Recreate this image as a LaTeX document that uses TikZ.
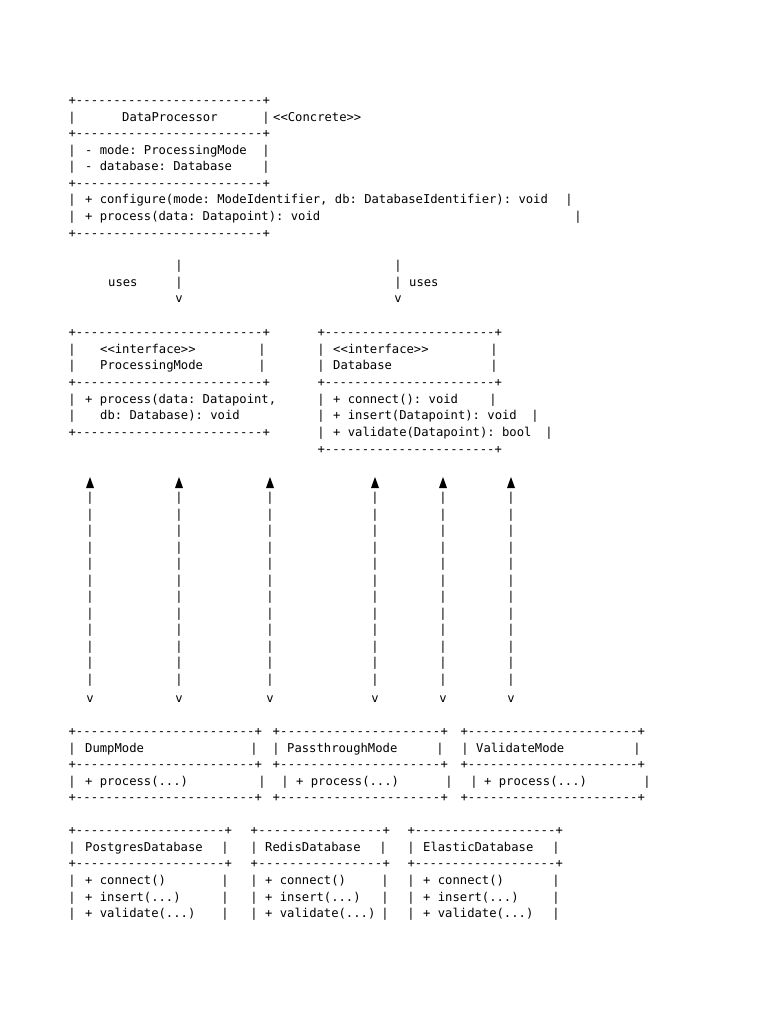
\documentclass[tikz,border=0pt]{standalone}
\usepackage{fontspec}
\setmonofont{DejaVu Sans Mono}
\tikzset{
  txt/.style={anchor=base west,inner sep=0pt,font=\ttfamily\fontsize{12.2}{14}\selectfont},
  bar/.style={anchor=base,inner sep=0pt,font=\ttfamily\fontsize{12.2}{14}\selectfont},
  tip/.style={fill=black}
}
% ascii helpers: rule line, text, pipe
\newcommand\dline[3]{\node[txt] at (#1-3.7,#3+4.5) {\hbox to \dimexpr#2pt-#1pt+7.4pt\relax{+\xleaders\hbox{-}\hfill+}};}
\newcommand\tx[3]{\node[txt] at (#1-1,#2+4.5) {#3};}
\newcommand\pp[2]{\node[bar] at (#1,#2+4.5) {|};}
\newcommand\tdots{...}
\begin{document}
\begin{tikzpicture}[x=1pt,y=-1pt]
  \useasboundingbox (0,0) rectangle (768,1024);

  % DataProcessor
  \dline{72}{266}{100}
  \pp{72}{117} \tx{123}{117}{DataProcessor} \pp{266}{117} \tx{274}{117}{<<Concrete>>}
  \dline{72}{266}{133}
  \pp{72}{150} \tx{86}{150}{- mode: ProcessingMode} \pp{266}{150}
  \pp{72}{166} \tx{86}{166}{- database: Database} \pp{266}{166}
  \dline{72}{266}{183}
  \pp{72}{199} \tx{86}{199}{+ configure(mode: ModeIdentifier, db: DatabaseIdentifier): void} \pp{569}{199}
  \pp{72}{216} \tx{86}{216}{+ process(data: Datapoint): void} \pp{578}{216}
  \dline{72}{266}{233}

  % uses
  \pp{179}{265} \pp{398}{265}
  \tx{109}{282}{uses} \pp{179}{282} \pp{398}{282} \tx{410}{282}{uses}
  \node[bar] (u1) at (179,298+4.5) {v};
  \node[bar] (u2) at (398,298+4.5) {v};

  % interfaces
  \dline{72}{266}{332}
  \pp{72}{349} \tx{101}{349}{<<interface>>} \pp{262}{349}
  \pp{72}{365} \tx{101}{365}{ProcessingMode} \pp{262}{365}
  \dline{72}{266}{382}
  \pp{72}{399} \tx{86}{399}{+ process(data: Datapoint,}
  \pp{72}{415} \tx{101}{415}{db: Database): void}
  \dline{72}{266}{432}

  \dline{321}{498}{332}
  \pp{321}{349} \tx{334}{349}{<<interface>>} \pp{494}{349}
  \pp{321}{365} \tx{334}{365}{Database} \pp{494}{365}
  \dline{321}{498}{382}
  \pp{321}{399} \tx{334}{399}{+ connect(): void} \pp{493}{399}
  \pp{321}{415} \tx{334}{415}{+ insert(Datapoint): void} \pp{535}{415}
  \pp{321}{432} \tx{334}{432}{+ validate(Datapoint): bool} \pp{549}{432}
  \dline{321}{498}{449}

  % arrows
  \foreach \x in {90,179,270,375,443,511} {
    \fill[tip] (\x-4,488) -- (\x+4,488) -- (\x,477) -- cycle;
    \foreach \k in {0,1,2,3,4,5,6,7,8,9,10,11} { \pp{\x}{497+16.5*\k} }
    \node[bar] at (\x,698+4.5) {v};
  }

  % modes
  \dline{72}{258}{731} \dline{276}{444}{731} \dline{464}{641}{731}
  \pp{72}{748} \tx{86}{748}{DumpMode} \pp{254}{748}
  \pp{276}{748} \tx{288}{748}{PassthroughMode} \pp{440}{748}
  \pp{465}{748} \tx{477}{748}{ValidateMode} \pp{637}{748}
  \dline{72}{258}{764} \dline{276}{444}{764} \dline{464}{641}{764}
  \pp{72}{781} \tx{86}{781}{+ process(...)} \pp{262}{781}
  \pp{285}{781} \tx{297}{781}{+ process(...)} \pp{449}{781}
  \pp{474}{781} \tx{485}{781}{+ process(...)} \pp{647}{781}
  \dline{72}{258}{797} \dline{276}{444}{797} \dline{464}{641}{797}

  % databases
  \dline{72}{228}{830} \dline{254}{386}{830} \dline{411}{559}{830}
  \pp{72}{847} \tx{86}{847}{PostgresDatabase} \pp{225}{847}
  \pp{254}{847} \tx{266}{847}{RedisDatabase} \pp{383}{847}
  \pp{411}{847} \tx{424}{847}{ElasticDatabase} \pp{556}{847}
  \dline{72}{228}{863} \dline{254}{386}{863} \dline{411}{559}{863}
  \foreach \y/\m in {880/{connect()}, 897/{insert(\tdots)}, 913/{validate(\tdots)}} {
    \pp{72}{\y} \tx{86}{\y}{+ \m} \pp{225}{\y}
    \pp{254}{\y} \tx{266}{\y}{+ \m} \pp{385}{\y}
    \pp{411}{\y} \tx{424}{\y}{+ \m} \pp{556}{\y}
  }
\end{tikzpicture}
\end{document}
